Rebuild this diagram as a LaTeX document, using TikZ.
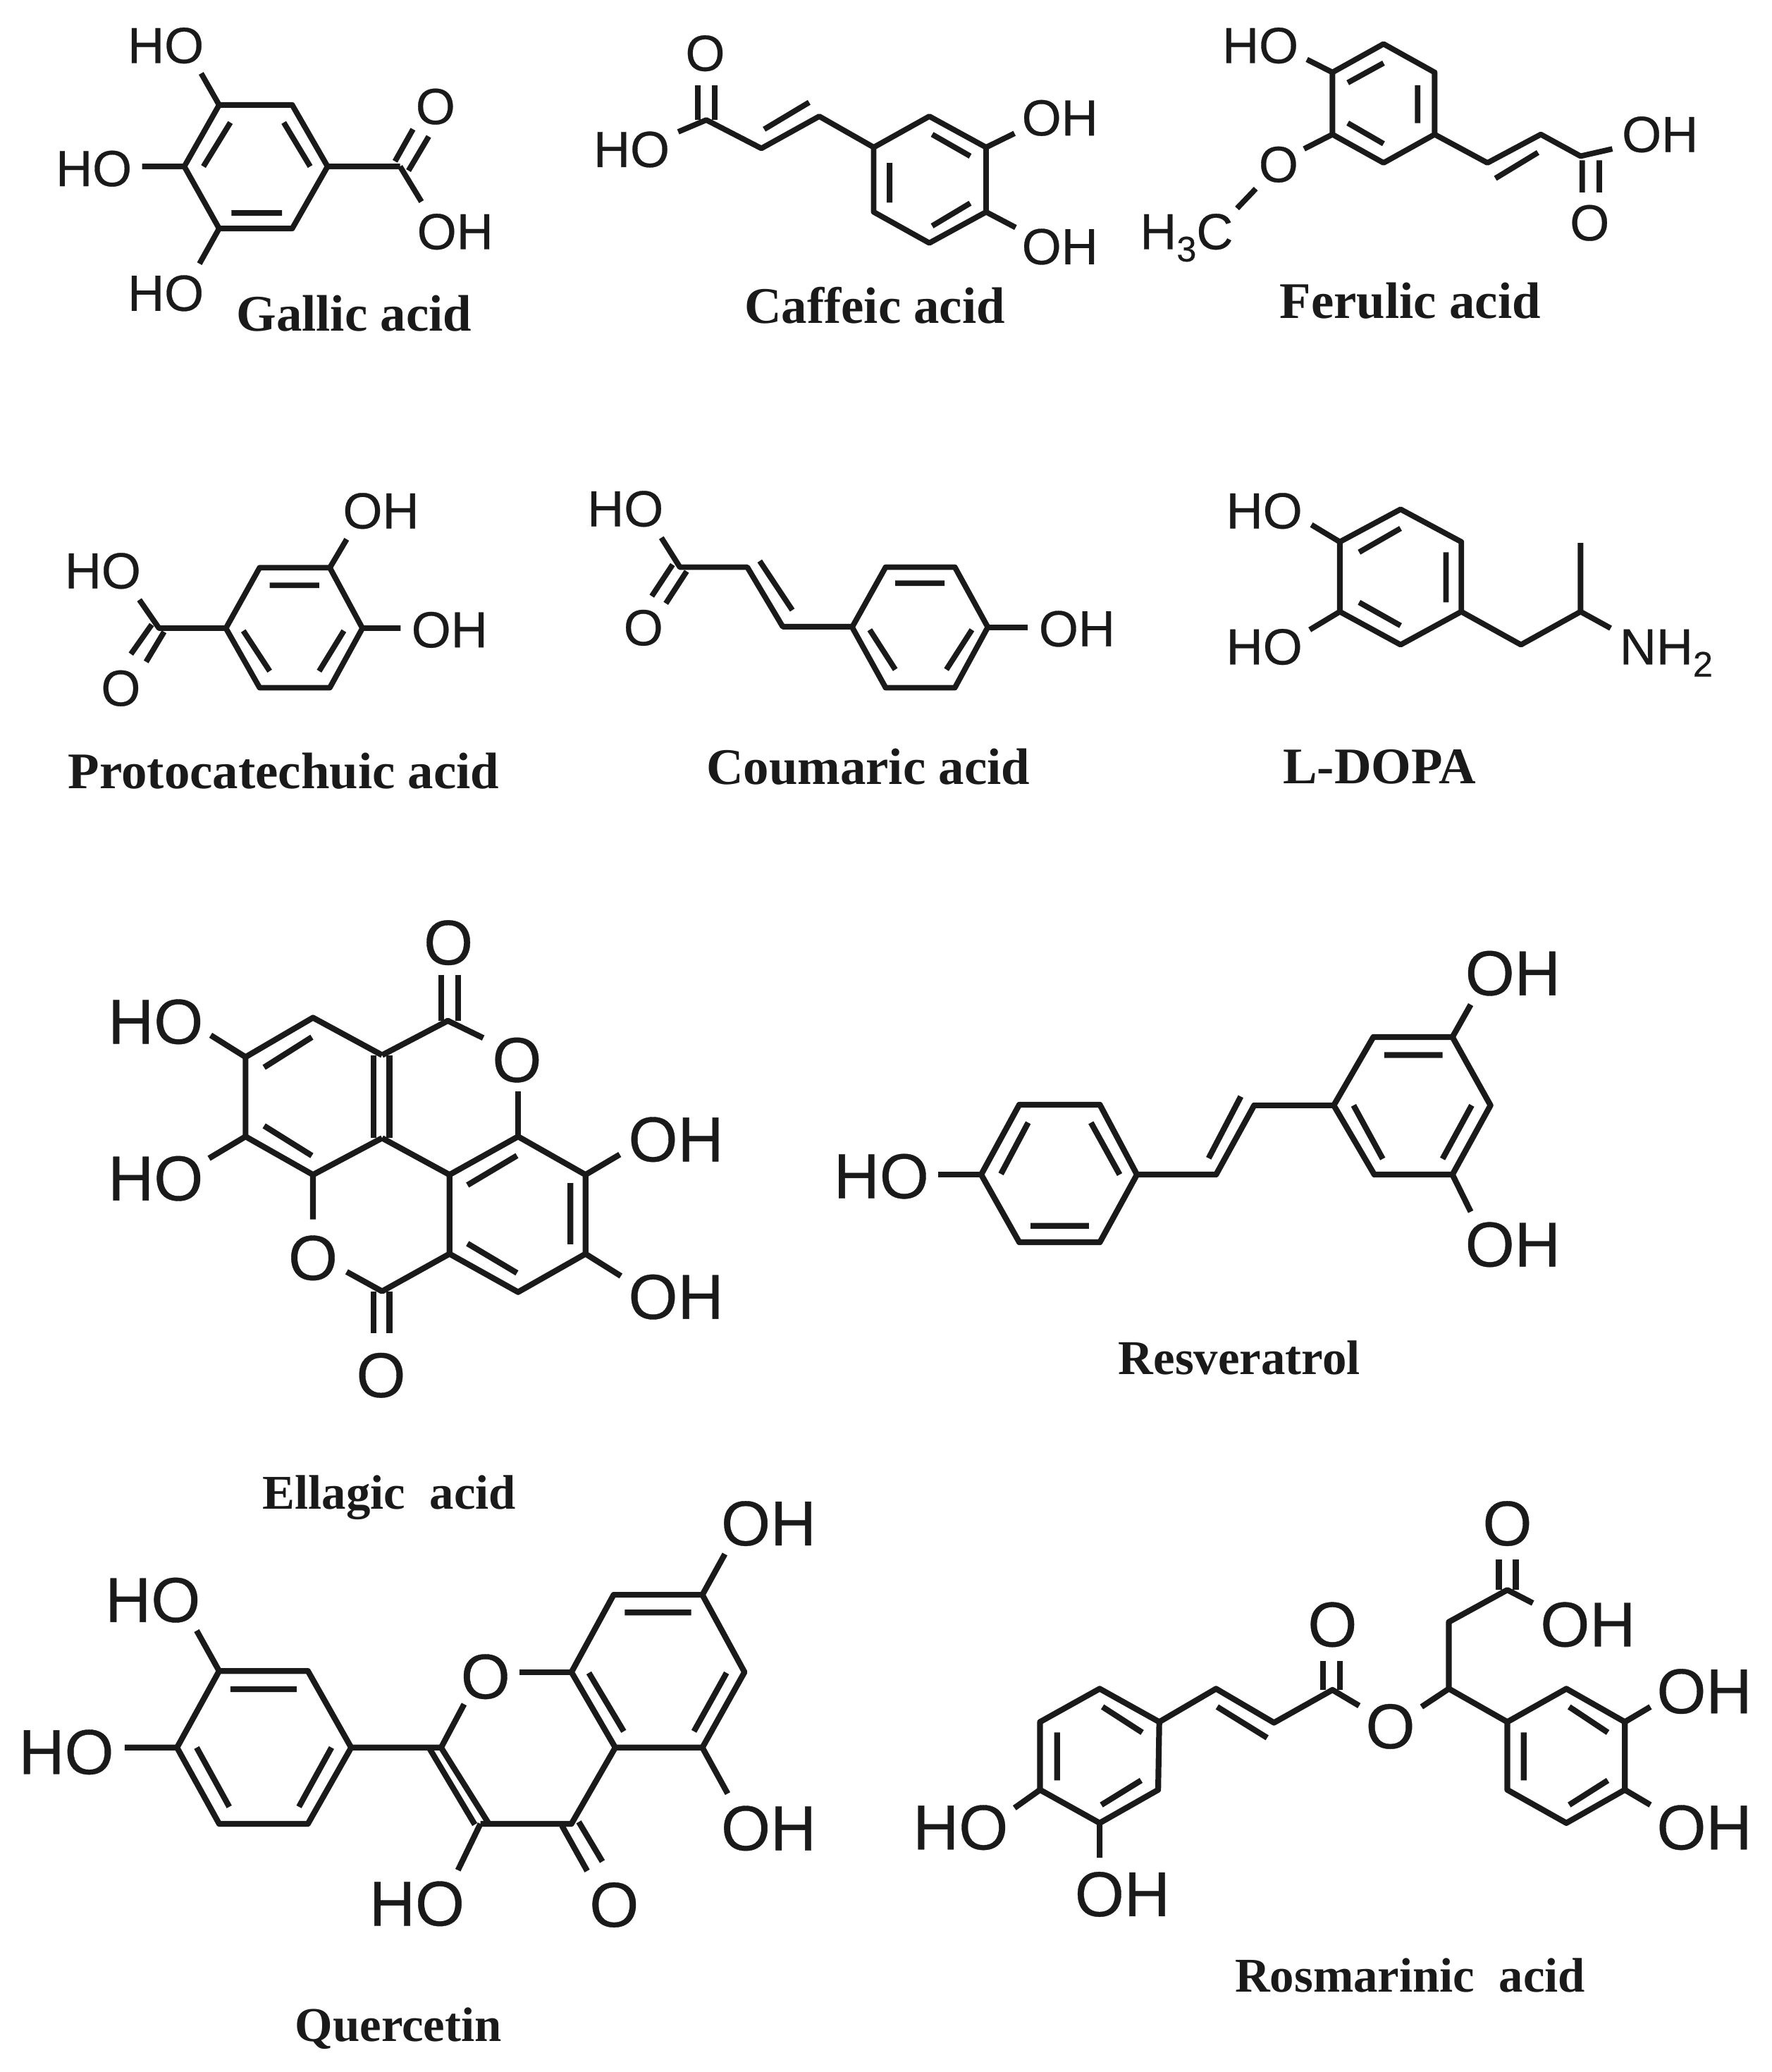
\documentclass[tikz,border=0pt]{standalone}
\usepackage{fontspec}
\setmainfont{Liberation Sans}
\newfontfamily\labfont[FakeBold=0.4]{Liberation Sans}
\newfontfamily\capfont{Liberation Serif}[BoldFont={Liberation Serif Bold}]
\definecolor{ink}{HTML}{1A1A1A}
\newcommand{\subdig}[1]{\raisebox{-.24em}{\scalebox{.7}{#1}}}
\tikzset{
  bond/.style={draw=ink,line width=1.95pt,line join=round,line cap=butt},
  bigbond/.style={draw=ink,line width=2.05pt,line join=round,line cap=butt},
  lab/.style={anchor=base,inner sep=0pt,text=ink,font=\labfont\fontsize{18}{18}\selectfont},
  biglab/.style={anchor=base,inner sep=0pt,text=ink,font=\labfont\fontsize{22.5}{22.5}\selectfont},
  capt/.style={anchor=base,inner sep=0pt,text=ink,font=\capfont\bfseries\fontsize{18.2}{18.2}\selectfont},
  bigcapt/.style={anchor=base,inner sep=0pt,text=ink,font=\capfont\bfseries\fontsize{17.2}{17.2}\selectfont},
  za/.style={x=.1993pt,y=-.18335pt},
  zb/.style={x=.20137pt,y=-.18335pt,shift={(312.5pt,0pt)}},
  zc/.style={x=.1993pt,y=-.13552pt,shift={(0pt,-312.5pt)}},
  zd/.style={x=.1993pt,y=-.13376pt,shift={(0pt,-525pt)}},
  ze/.style={x=.20137pt,y=-.13376pt,shift={(312.5pt,-525pt)}},
  zf/.style={x=.17538pt,y=-.11161pt,shift={(287.5pt,-325pt)}},
}
\begin{document}
\begin{tikzpicture}
\fill[white] (0pt,0pt) rectangle (628.25pt,-734.75pt);
\useasboundingbox (0pt,0pt) rectangle (628.25pt,-734.75pt);

% ---------- Gallic acid, Protocatechuic acid, acid ends of Caffeic and Coumaric
\begin{scope}[za]
\draw[bond] (390,203)--(520,203)--(583,322)--(520,442)--(390,442)--(328,322)--cycle;
\draw[bond] (410,237)--(362,322) (505,237)--(552,322) (412,412)--(502,412);
\draw[bond] (390,203)--(358,142) (328,322)--(253,322) (390,442)--(355,510);
\draw[bond] (583,322)--(712,322) (703,312)--(735,250) (727,330)--(763,264) (712,322)--(750,390);
\node[lab] (g1) at (295,122) {HO};
\node[lab] (g2) at (167,360) {HO};
\node[lab] (g3) at (295,601) {HO};
\node[lab] (g4) at (775,240) {O};
\node[lab] (g5) at (810,482) {OH};
\node[capt] (gallic) at (630,640) {Gallic acid};

\draw[bond] (1242,165)--(1242,232) (1272,165)--(1272,232);
\draw[bond] (1207,255)--(1257,232)--(1355,287)--(1458,225)--(1555,285);
\draw[bond] (1360,250)--(1440,198);
\node[lab] (c1) at (1255,137) {O};
\node[lab] (c2) at (1124,323) {HO};

\draw[bond] (462,1098)--(587,1098)--(645,1215)--(587,1330)--(462,1330)--(402,1215)--cycle;
\draw[bond] (480,1132)--(568,1132) (433,1220)--(480,1298) (612,1220)--(568,1298);
\draw[bond] (587,1098)--(617,1043) (645,1215)--(713,1215) (402,1215)--(283,1215)--(248,1160);
\draw[bond] (270,1208)--(233,1265) (292,1222)--(260,1280);
\node[lab] (p1) at (678,1022) {OH};
\node[lab] (p2) at (800,1252) {OH};
\node[lab] (p3) at (183,1138) {HO};
\node[lab] (p4) at (215,1365) {O};
\node[capt] (proto) at (505,1525) {Protocatechuic acid};

\draw[bond] (1177,1040)--(1210,1097)--(1330,1097)--(1393,1212)--(1517,1212);
\draw[bond] (1352,1085)--(1410,1180);
\draw[bond] (1197,1092)--(1160,1153) (1222,1105)--(1185,1167);
\node[lab] (m1) at (1113,1018) {HO};
\node[lab] (m2) at (1145,1248) {O};
\end{scope}

% ---------- Right ends, Ferulic acid, L-DOPA
\begin{scope}[zb]
\draw[bond] (-13,285)--(85,225)--(185,285)--(185,410)--(85,470)--(-13,410)--cycle;
\draw[bond] (15,315)--(15,392) (90,260)--(157,302) (90,437)--(157,393);
\draw[bond] (185,285)--(235,258) (185,410)--(237,440);
\node[lab] (c3) at (315,262) {OH};
\node[lab] (c4) at (315,511) {OH};

\draw[bond] (795,140)--(885,85)--(975,140)--(975,260)--(885,315)--(795,260)--cycle;
\draw[bond] (822,160)--(885,122) (945,165)--(945,238) (822,238)--(885,278);
\draw[bond] (795,140)--(750,115) (795,260)--(745,288) (660,365)--(627,403);
\draw[bond] (975,260)--(1068,315)--(1162,260)--(1232,302)--(1288,288);
\draw[bond] (1082,345)--(1157,295) (1235,310)--(1235,372) (1265,310)--(1265,372);
\node[lab] (f1) at (668,122) {HO};
\node[lab] (f2) at (700,352) {O};
\node[lab] (f3) at (538,482) {H\subdig{3}C};
\node[lab] (f4) at (1372,294) {OH};
\node[lab] (f5) at (1248,465) {O};
\node[capt] (ferulic) at (932,615) {Ferulic acid};

\draw[bond] (8,1097)--(130,1097)--(188,1213)--(130,1330)--(8,1330)--(-51,1213)--cycle;
\draw[bond] (25,1128)--(112,1128) (160,1218)--(115,1295) (-20,1218)--(25,1295);
\draw[bond] (188,1213)--(258,1213);
\node[lab] (m3) at (345,1250) {OH};

\draw[bond] (808,1048)--(915,985)--(1022,1048)--(1022,1183)--(915,1247)--(808,1183)--cycle;
\draw[bond] (842,1068)--(915,1022) (995,1068)--(995,1165) (842,1165)--(915,1210);
\draw[bond] (808,1048)--(758,1015) (808,1183)--(755,1218);
\draw[bond] (1022,1183)--(1127,1247)--(1232,1183)--(1232,1050) (1232,1183)--(1285,1215);
\node[lab] (d1) at (675,1022) {HO};
\node[lab] (d2) at (675,1285) {HO};
\node[lab,anchor=base west] (d3) at (1300,1285) {NH\subdig{2}};
\node[capt] (ldopa) at (878,1515) {L-DOPA};
\end{scope}

% ---------- captions spanning two crops (reference pixels / 4)
\node[capt] (caffeic) at (310.25pt,-114.6pt) {Caffeic acid};
\node[capt] (coumaric) at (307.9pt,-278.2pt) {Coumaric acid};

% ---------- Ellagic acid
\begin{scope}[zc]
\draw[bigbond] (437,460)--(557,357)--(680,455);
\draw[bigbond] (437,460)--(437,668)--(557,768)--(680,672);
\draw[bigbond] (665,455)--(665,672) (693,455)--(693,672);
\draw[bigbond] (470,487)--(555,408) (470,640)--(555,718);
\draw[bigbond] (680,455)--(797,365)--(860,410);
\draw[bigbond] (785,365)--(785,245) (815,365)--(815,245);
\draw[bigbond] (922,550)--(922,668);
\draw[bigbond] (922,668)--(1042,768)--(1042,975)--(922,1075)--(800,975)--(800,768)--cycle;
\draw[bigbond] (832,795)--(920,718) (1015,790)--(1015,950) (832,948)--(920,1025);
\draw[bigbond] (680,672)--(800,768);
\draw[bigbond] (437,460)--(375,403) (437,668)--(372,725) (1042,768)--(1103,715) (1042,975)--(1105,1033);
\draw[bigbond] (557,768)--(557,885) (617,1022)--(680,1073)--(800,975);
\draw[bigbond] (665,1073)--(665,1182) (693,1073)--(693,1182);
\node[biglab] (e1) at (798,218) {O};
\node[biglab] (e2) at (920,525) {O};
\node[biglab] (e3) at (277,425) {HO};
\node[biglab] (e4) at (277,835) {HO};
\node[biglab] (e5) at (1203,733) {OH};
\node[biglab] (e6) at (1203,1145) {OH};
\node[biglab] (e7) at (557,1043) {O};
\node[biglab] (e8) at (678,1350) {O};
\end{scope}

% ---------- Resveratrol
\begin{scope}[zf]
\draw[bigbond] (422,598)--(585,598)--(660,820)--(585,1035)--(422,1035)--(345,820)--cycle;
\draw[bigbond] (440,655)--(385,818) (567,655)--(625,820) (445,983)--(563,983);
\draw[bigbond] (258,820)--(345,820);
\draw[bigbond] (660,820)--(820,820)--(897,600)--(1058,600);
\draw[bigbond] (805,768)--(870,572);
\draw[bigbond] (1058,600)--(1138,383)--(1298,383)--(1375,600)--(1298,820)--(1140,820)--cycle;
\draw[bigbond] (1160,440)--(1278,440) (1098,600)--(1157,770) (1337,600)--(1278,770);
\draw[bigbond] (1298,383)--(1335,280) (1298,820)--(1335,938);
\node[biglab] (r1) at (143,895) {HO};
\node[biglab] (r2) at (1420,250) {OH};
\node[biglab] (r3) at (1420,1112) {OH};
\node[bigcapt] (resv) at (867,1455) {Resveratrol};
\end{scope}

% ---------- Quercetin
\begin{scope}[zd]
\node[bigcapt] (ellagic) at (693,75) {Ellagic\hspace{.5em}acid};
\draw[bigbond] (390,505)--(548,505)--(625,708)--(548,910)--(390,910)--(315,708)--cycle;
\draw[bigbond] (410,553)--(528,553) (350,708)--(408,865) (590,708)--(532,865);
\draw[bigbond] (390,505)--(350,398) (315,708)--(222,708);
\draw[bigbond] (625,708)--(785,708)--(826,593);
\draw[bigbond] (925,508)--(1017,508);
\draw[bigbond] (785,708)--(870,910) (765,712)--(845,912);
\draw[bigbond] (855,910)--(1017,910)--(1095,708);
\draw[bigbond] (855,910)--(815,1033);
\draw[bigbond] (1000,915)--(1045,1035) (1030,905)--(1072,1010);
\draw[bigbond] (1017,508)--(1092,303)--(1250,303)--(1325,508)--(1250,708)--(1095,708)--cycle;
\draw[bigbond] (1112,350)--(1230,350) (1048,510)--(1110,665) (1293,510)--(1235,665);
\draw[bigbond] (1250,303)--(1290,195) (1250,708)--(1295,830);
\node[biglab] (q1) at (272,375) {HO};
\node[biglab] (q2) at (118,778) {HO};
\node[biglab] (q3) at (864,578) {O};
\node[biglab] (q4) at (742,1180) {HO};
\node[biglab] (q5) at (1093,1183) {O};
\node[biglab] (q6) at (1368,172) {OH};
\node[biglab] (q7) at (1368,980) {OH};
\node[bigcapt] (querc) at (709,1487) {Quercetin};
\end{scope}

% ---------- Rosmarinic acid
\begin{scope}[ze]
\draw[bigbond] (280,640)--(385,552)--(490,640)--(488,820)--(385,908)--(280,820)--cycle;
\draw[bigbond] (390,600)--(460,668) (310,668)--(310,795) (388,860)--(458,795);
\draw[bigbond] (280,820)--(235,868) (385,908)--(385,1000);
\draw[bigbond] (490,640)--(590,552)--(692,642)--(795,555)--(842,597);
\draw[bigbond] (592,600)--(680,682);
\draw[bigbond] (778,555)--(778,478) (808,555)--(808,478);
\draw[bigbond] (952,600)--(1000,552)--(1000,375)--(1103,290)--(1148,325);
\draw[bigbond] (1088,290)--(1088,210) (1118,290)--(1118,210);
\draw[bigbond] (1000,552)--(1103,640);
\draw[bigbond] (1103,640)--(1207,552)--(1310,640)--(1310,820)--(1207,908)--(1103,820)--cycle;
\draw[bigbond] (1212,600)--(1280,668) (1132,668)--(1132,795) (1212,860)--(1280,795);
\draw[bigbond] (1310,640)--(1355,600) (1310,820)--(1355,860);
\node[biglab] (s1) at (140,978) {HO};
\node[biglab] (s2) at (425,1155) {OH};
\node[biglab] (s3) at (795,440) {O};
\node[biglab] (s4) at (897,710) {O};
\node[biglab] (s5) at (1103,172) {O};
\node[biglab] (s6) at (1245,440) {OH};
\node[biglab] (s7) at (1450,617) {OH};
\node[biglab] (s8) at (1450,978) {OH};
\node[bigcapt] (rosm) at (932,1355) {Rosmarinic\hspace{.5em}acid};
\end{scope}
\end{tikzpicture}
\end{document}
